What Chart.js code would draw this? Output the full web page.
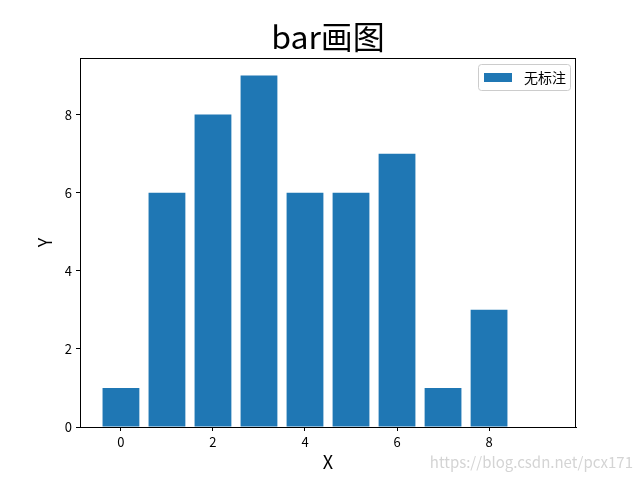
<!DOCTYPE html>
<html>
<head>
<meta charset="utf-8">
<script src="https://cdn.jsdelivr.net/npm/chart.js@4/dist/chart.umd.min.js"></script>
<style>
  html, body { margin: 0; padding: 0; background: #fff; }
  #wrap { width: 640px; height: 480px; }
</style>
</head>
<body>
<div id="wrap"><canvas id="c" width="640" height="480"></canvas></div>
<script>
// ── Data ──────────────────────────────────────────────────────
const X_VALUES = [0, 1, 2, 3, 4, 5, 6, 7, 8, 9];
const Y_VALUES = [1, 6, 8, 9, 6, 6, 7, 1, 3, 0];
const X_TICKS = [0, 2, 4, 6, 8];
const Y_TICKS = [0, 2, 4, 6, 8];
const SERIES_LABEL = '无标注';
const TITLE = 'bar画图';
const WATERMARK = 'https://blog.csdn.net/pcx171';

const FONT = "'Noto Sans CJK SC', 'DejaVu Sans', sans-serif";
const BAR_COLOR = '#1f77b4';

// axes frame (matplotlib draws all four spines)
const framePlugin = {
  id: 'frame',
  afterDatasetsDraw(chart) {
    const { ctx, chartArea: A } = chart;
    ctx.save();
    ctx.strokeStyle = '#000';
    ctx.lineWidth = 1;
    ctx.strokeRect(Math.round(A.left) + 0.5, Math.round(A.top) + 0.5,
      Math.round(A.right - A.left) - 1, Math.round(A.bottom - A.top));
    ctx.restore();
  },
};

// legend inside the axes, upper right
const innerLegend = {
  id: 'innerLegend',
  afterDraw(chart) {
    const { ctx, chartArea: A } = chart;
    const ds = chart.data.datasets[0];
    ctx.save();
    ctx.font = '14px ' + FONT;
    const tw = ctx.measureText(ds.label).width;
    const w = 42 + tw + 8, h = 26;
    const x = A.right - 6 - w, y = A.top + 6;
    ctx.fillStyle = 'rgba(255,255,255,0.8)';
    ctx.strokeStyle = '#cccccc';
    ctx.lineWidth = 1;
    ctx.beginPath();
    ctx.roundRect(x + 0.5, y + 0.5, w, h, 3);
    ctx.fill();
    ctx.stroke();
    ctx.fillStyle = ds.backgroundColor;
    ctx.fillRect(x + 6, y + 9, 28, 9);
    ctx.fillStyle = '#000';
    ctx.textBaseline = 'middle';
    ctx.fillText(ds.label, x + 46, y + h / 2 + 1);
    ctx.restore();
  },
};

const watermark = {
  id: 'watermark',
  afterDraw(chart) {
    const { ctx } = chart;
    ctx.save();
    ctx.font = '15px ' + FONT;
    ctx.fillStyle = '#d4d4d4';
    ctx.textAlign = 'right';
    ctx.textBaseline = 'middle';
    ctx.fillText(WATERMARK, 633, 462);
    ctx.restore();
  },
};

new Chart(document.getElementById('c'), {
  type: 'bar',
  plugins: [framePlugin, innerLegend, watermark],
  data: {
    datasets: [{
      label: SERIES_LABEL,
      data: X_VALUES.map((x, i) => ({ x, y: Y_VALUES[i] })),
      backgroundColor: BAR_COLOR,
      borderColor: BAR_COLOR,
      borderWidth: 0,
      inflateAmount: 0,
      barPercentage: 0.8,
      categoryPercentage: 1.0,
    }],
  },
  options: {
    responsive: false,
    animation: false,
    devicePixelRatio: 1,
    layout: { padding: { left: 0, right: 64, top: 0, bottom: 0 } },
    plugins: {
      legend: { display: false },
      tooltip: { enabled: false },
      title: {
        display: true,
        text: TITLE,
        fullSize: false,
        color: '#000',
        font: { family: FONT, size: 32, weight: 'normal' },
        padding: { top: 18, bottom: 1.6 },
      },
    },
    scales: {
      x: {
        type: 'linear',
        offset: false,
        min: -0.89,
        max: 9.89,
        afterBuildTicks(s) { s.ticks = X_TICKS.map(v => ({ value: v })); },
        afterFit(s) { s.height = 53; },
        ticks: { color: '#000', font: { family: FONT, size: 13 }, padding: 3, maxRotation: 0 },
        grid: { offset: false, drawOnChartArea: false, drawTicks: true, tickLength: 4, color: '#000' },
        border: { display: true, color: '#000' },
        title: {
          display: true, text: 'X', color: '#000',
          font: { family: FONT, size: 18 }, padding: { top: 0, bottom: 7 },
        },
      },
      y: {
        type: 'linear',
        min: 0,
        max: 9.45,
        afterBuildTicks(s) { s.ticks = Y_TICKS.map(v => ({ value: v })); },
        afterFit(s) { s.width = 80; },
        ticks: { color: '#000', font: { family: FONT, size: 13 }, padding: 4 },
        grid: { drawOnChartArea: false, drawTicks: true, tickLength: 4, color: '#000' },
        border: { display: true, color: '#000' },
        title: {
          display: true, text: 'Y', color: '#000',
          font: { family: FONT, size: 18 }, padding: { top: 34, bottom: 0 },
        },
      },
    },
  },
});
</script>
</body>
</html>
